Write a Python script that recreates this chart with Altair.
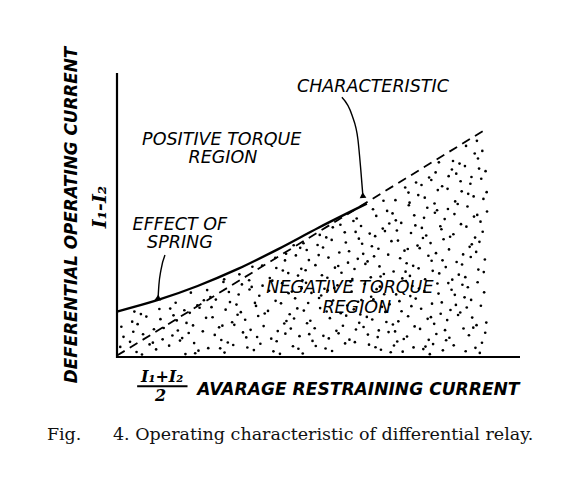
import altair as alt
import pandas as pd

# --- data: the characteristic in arbitrary units (x 0..100, y 0..100) ---
curve_x = [0, 10, 20, 30, 40, 50, 62]
curve_y = [16, 20, 25, 31, 38, 45.5, 54]

dash_x = [0, 92]
dash_y = [0.5, 80.6]

char_arrow_x = [55.8, 58.3, 59.8, 60.5, 61.0]
char_arrow_y = [91.5, 85.2, 76.4, 65.8, 57.0]
spring_arrow_x = [11.9, 10.9, 10.4, 10.2]
spring_arrow_y = [35.9, 30.6, 25.4, 21.0]

label_text = ["CHARACTERISTIC", "POSITIVE TORQUE", "REGION", "EFFECT OF",
              "SPRING", "NEGATIVE TORQUE", "REGION"]
label_x = [63.5, 26, 26.3, 15.6, 15.6, 57.8, 59.5]
label_y = [95, 76.4, 70, 46.5, 40, 24.3, 17.3]

FONT = "DejaVu Sans"


def boundary(x):
    # upper edge of the negative torque region: curve, then dashed line
    if x <= curve_x[-1]:
        for i in range(len(curve_x) - 1):
            if curve_x[i] <= x <= curve_x[i + 1]:
                t = (x - curve_x[i]) / (curve_x[i + 1] - curve_x[i])
                return curve_y[i] + t * (curve_y[i + 1] - curve_y[i])
    return dash_y[0] + (x - dash_x[0]) / (dash_x[1] - dash_x[0]) * (dash_y[1] - dash_y[0])


def halton(i, b):
    f, r = 1.0, 0.0
    while i > 0:
        f /= b
        r += f * (i % b)
        i //= b
    return r


# stipple texture for the shaded region (deterministic, not data)
dots = []
for i in range(1, 820):
    px = halton(i, 2) * 92
    py = halton(i, 3) * 81
    if py < boundary(px) - 1.2 and px > 0.6 and py > 0.8:
        dots.append({"x": px, "y": py})
dots_df = pd.DataFrame(dots)

xs = alt.Scale(domain=[0, 100], nice=False, zero=False)
ys = alt.Scale(domain=[0, 100], nice=False, zero=False)
X = lambda f: alt.X(f, scale=xs, axis=None)
Y = lambda f: alt.Y(f, scale=ys, axis=None)

# axes drawn as lines
axes_df = pd.DataFrame({"x": [0, 0, 100], "y": [100, 0, 0], "o": [0, 1, 2]})
axes = alt.Chart(axes_df).mark_line(color="black", strokeWidth=2.2).encode(
    x=X("x:Q"), y=Y("y:Q"), order="o:Q")

stipple = alt.Chart(dots_df).mark_circle(size=7, color="black", opacity=1).encode(
    x=X("x:Q"), y=Y("y:Q"))

curve = alt.Chart(pd.DataFrame({"x": curve_x, "y": curve_y})).mark_line(
    color="black", strokeWidth=2.4, interpolate="monotone").encode(x=X("x:Q"), y=Y("y:Q"))

dashed = alt.Chart(pd.DataFrame({"x": dash_x, "y": dash_y})).mark_line(
    color="black", strokeWidth=1.8, strokeDash=[9, 6]).encode(x=X("x:Q"), y=Y("y:Q"))

arrow_df = pd.DataFrame({
    "x": char_arrow_x + spring_arrow_x,
    "y": char_arrow_y + spring_arrow_y,
    "g": ["a"] * len(char_arrow_x) + ["b"] * len(spring_arrow_x),
    "o": list(range(len(char_arrow_x))) + list(range(len(spring_arrow_x))),
})
arrows = alt.Chart(arrow_df).mark_line(color="black", strokeWidth=1.4, interpolate="monotone").encode(
    x=X("x:Q"), y=Y("y:Q"), detail="g:N", order="o:Q")
heads_df = pd.DataFrame({"x": [char_arrow_x[-1], spring_arrow_x[-1]],
                         "y": [char_arrow_y[-1], spring_arrow_y[-1]],
                         "a": [176, 184]})
heads = alt.Chart(heads_df).mark_point(shape="triangle-down", filled=True, size=45,
                                        color="black", opacity=1).encode(
    x=X("x:Q"), y=Y("y:Q"), angle=alt.Angle("a:Q", scale=None))

labels = alt.Chart(pd.DataFrame({"t": label_text, "x": label_x, "y": label_y})).mark_text(
    font=FONT, fontSize=17.5, fontStyle="italic", color="black").encode(
    x=X("x:Q"), y=Y("y:Q"), text="t:N")

# axis titles and caption
ytitle = alt.Chart(pd.DataFrame({"t": ["DEFERENTIAL OPERATING CURRENT"], "x": [-11.2], "y": [50]})).mark_text(
    font=FONT, fontSize=16.8, fontStyle="italic", fontWeight="bold", angle=270).encode(
    x=X("x:Q"), y=Y("y:Q"), text="t:N")
ysub = alt.Chart(pd.DataFrame({"t": ["I₁-I₂"], "x": [-4.2], "y": [52.8]})).mark_text(
    font="DejaVu Serif", fontSize=19, fontStyle="italic", fontWeight="bold", angle=270).encode(
    x=X("x:Q"), y=Y("y:Q"), text="t:N")

frac = alt.Chart(pd.DataFrame({"t": ["I₁+I₂", "2"], "x": [11.2, 10.8], "y": [-7.2, -13.8]})).mark_text(
    font="DejaVu Serif", fontSize=16, fontStyle="italic", fontWeight="bold").encode(
    x=X("x:Q"), y=Y("y:Q"), text="t:N")
frac_bar = alt.Chart(pd.DataFrame({"x": [5.0], "x2": [17.5], "y": [-10.3]})).mark_rule(
    color="black", strokeWidth=1.8).encode(x=X("x:Q"), x2="x2:Q", y=Y("y:Q"))
xtitle = alt.Chart(pd.DataFrame({"t": ["AVARAGE RESTRAINING CURRENT"], "x": [19.9], "y": [-11.6]})).mark_text(
    font=FONT, fontSize=17.1, fontStyle="italic", fontWeight="bold", align="left").encode(
    x=X("x:Q"), y=Y("y:Q"), text="t:N")

caption = alt.Chart(pd.DataFrame({"t": ["Fig.", "4. Operating characteristic of differential relay."],
                                  "x": [-17.4, -1.0], "y": [-27.5, -27.5]})).mark_text(
    font="DejaVu Serif", fontSize=17.5, align="left", color="#111").encode(
    x=X("x:Q"), y=Y("y:Q"), text="t:N")

chart = (stipple + dashed + curve + axes + arrows + heads + labels + ytitle + ysub
         + frac + frac_bar + xtitle + caption).properties(
    width=403, height=284,
    padding={"left": 109, "top": 65, "right": 40, "bottom": 130},
    autosize=alt.AutoSizeParams(type="none"),
).configure_view(stroke=None)

chart.save("out.html", embed_options={"renderer": "svg", "actions": False})
